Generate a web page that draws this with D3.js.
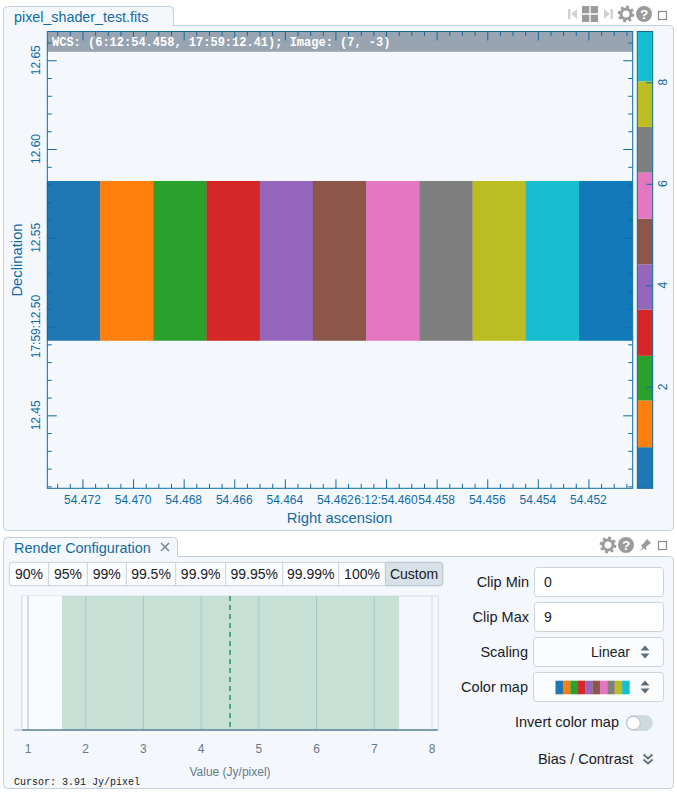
<!DOCTYPE html>
<html><head><meta charset="utf-8">
<script src="https://cdn.jsdelivr.net/npm/d3@7"></script>
<style>
html,body{margin:0;padding:0;background:#fff;overflow:hidden}
svg{display:block;font-family:"Liberation Sans",Arial,sans-serif}
</style></head><body><svg id="c" width="677" height="792"></svg>
<script>
// ---------- data ----------
const pixelColumns=[0,1,2,3,4,5,6,7,8,9,10];
const pixelColors=["#1f77b4","#ff7f0e","#2ca02c","#d62728","#9467bd","#8c564b","#e377c2","#7f7f7f","#bcbd22","#17becf","#127ab8"];
const rowDecRange=[12.492,12.582];
const raMajor=[54.472,54.470,54.468,54.466,54.464,54.462,54.460,54.458,54.456,54.454,54.452];
const raLabels=["54.472","54.470","54.468","54.466","54.464","54.462","6:12:54.460","54.458","54.456","54.454","54.452"];
const raMinor=[54.4730,54.4725,54.4715,54.4710,54.4705,54.4695,54.4690,54.4685,54.4675,54.4670,54.4665,54.4655,54.4650,54.4645,54.4635,54.4630,54.4625,54.4615,54.4610,54.4605,54.4595,54.4590,54.4585,54.4575,54.4570,54.4565,54.4555,54.4550,54.4545,54.4535,54.4530,54.4525,54.4515,54.4510,54.4505];
const decMajor=[12.65,12.60,12.55,12.50,12.45];
const decLabels=["12.65","12.60","12.55","17:59:12.50","12.45"];
const decMinor=[12.66,12.64,12.63,12.62,12.61,12.59,12.58,12.57,12.56,12.54,12.53,12.52,12.51,12.49,12.48,12.47,12.46,12.44,12.43,12.42,12.41];
const cbarBounds=[0,0.81,1.73,2.61,3.52,4.41,5.31,6.22,7.12,8.02,9];
const cbarColors=pixelColors.slice(0,10);
const cbarTicks=[2,4,6,8];
const percentiles=["90%","95%","99%","99.5%","99.9%","99.95%","99.99%","100%","Custom"];
const percentileEdges=[9.3,48.7,87.3,126.3,175.7,225.7,282.7,338.7,385.3,442.7];
const histTicks=[1,2,3,4,5,6,7,8];
const histBins=[0.9,2.7,2.7,6.3,6.3,8.1];
const histCounts=[0,0,0,0,0,0];
const clipRange=[1.59,7.43];
const meanValue=4.5;

// ---------- layout ----------
const svg=d3.select("#c");
const BLUE="#106ba3",PANEL="#f4f8fc",EDGE="#c3cfda",DARK="#182026",GREY="#66788a";
const F={l:47.3,r:632.7,t:31.5,b:488.3};
const C={l:637.3,r:652.7};
const H={l:21.7,r:438.3,t:596,b:730};

function tabPanel(tx0,tx1,ty,py,pb){
  const l=3.5,r=673.5,R=4;
  svg.append("path").attr("d",`M${l},${py+R}L${l},${ty+R}Q${l},${ty} ${l+R},${ty}L${tx1-R},${ty}Q${tx1},${ty} ${tx1},${ty+R}L${tx1},${py}L${r-R},${py}Q${r},${py} ${r},${py+R}L${r},${pb-R}Q${r},${pb} ${r-R},${pb}L${l+R},${pb}Q${l},${pb} ${l},${pb-R}Z`)
    .attr("fill",PANEL).attr("stroke",EDGE).attr("stroke-width",1);
}
tabPanel(3.5,173.5,6.5,25.5,530.5);
tabPanel(3.5,177.5,537.5,556.5,788.5);
svg.append("text").attr("x",14).attr("y",22).attr("font-size",14.3).attr("fill",BLUE).text("pixel_shader_test.fits");
svg.append("text").attr("x",14).attr("y",553).attr("font-size",14.4).attr("fill",BLUE).text("Render Configuration");
// close x
svg.append("path").attr("d","M161,543L169,551M169,543L161,551").attr("stroke","#7d8a96").attr("stroke-width",1.6).attr("fill","none");

// ---------- image plot ----------
const xRa=d3.scaleLinear().domain([54.47339,54.45025]).range([F.l,F.r]);
const yDec=d3.scaleLinear().domain([12.6662,12.4089]).range([F.t,F.b]);
const xPix=d3.scaleBand().domain(pixelColumns).range([46.9,632.2]);
const colorOf=d3.scaleOrdinal().domain(pixelColumns).range(pixelColors);
svg.append("g").selectAll("rect").data(pixelColumns).join("rect")
  .attr("x",d=>xPix(d)).attr("width",xPix.bandwidth()+0.3)
  .attr("y",yDec(rowDecRange[1])).attr("height",yDec(rowDecRange[0])-yDec(rowDecRange[1]))
  .attr("fill",d=>colorOf(d));
svg.append("rect").attr("x",F.l).attr("y",F.t).attr("width",F.r-F.l).attr("height",20.3).attr("fill","#98a4b1");

function ticks(axisFn,scale,vals,len,tr){
  const g=svg.append("g").attr("transform",tr).call(axisFn(scale).tickValues(vals).tickSize(len).tickFormat(""));
  g.select(".domain").remove();
  g.selectAll("line").attr("stroke",BLUE).attr("stroke-width",1);
}
ticks(d3.axisTop,xRa,raMajor,9,`translate(0,${F.b})`);
ticks(d3.axisTop,xRa,raMinor,4.5,`translate(0,${F.b})`);
ticks(d3.axisBottom,xRa,raMajor,9,`translate(0,${F.t})`);
ticks(d3.axisBottom,xRa,raMinor,4.5,`translate(0,${F.t})`);
ticks(d3.axisRight,yDec,decMajor,9.5,`translate(${F.l},0)`);
ticks(d3.axisRight,yDec,decMinor,4.5,`translate(${F.l},0)`);
ticks(d3.axisLeft,yDec,decMajor,9.5,`translate(${F.r},0)`);
ticks(d3.axisLeft,yDec,decMinor,4.5,`translate(${F.r},0)`);
svg.append("rect").attr("x",F.l).attr("y",F.t).attr("width",F.r-F.l).attr("height",F.b-F.t).attr("fill","none").attr("stroke",BLUE).attr("stroke-width",1);
svg.append("text").attr("x",52).attr("y",46).attr("font-family","'Liberation Mono',monospace").attr("font-weight","bold").attr("font-size",12).attr("fill","#fff")
  .text("WCS: (6:12:54.458, 17:59:12.41); Image: (7, -3)");

svg.append("g").selectAll("text").data(raMajor).join("text")
  .attr("x",d=>xRa(d)).attr("y",504).attr("text-anchor","middle").attr("font-size",12).attr("fill",BLUE)
  .text((d,i)=>raLabels[i]);
svg.append("g").selectAll("text").data(decMajor).join("text")
  .attr("transform",d=>`translate(40,${yDec(d)}) rotate(-90)`).attr("text-anchor","middle").attr("font-size",12).attr("fill",BLUE)
  .text((d,i)=>decLabels[i]);
svg.append("text").attr("x",339.5).attr("y",523).attr("text-anchor","middle").attr("font-size",14.8).attr("fill",BLUE).text("Right ascension");
svg.append("text").attr("transform","translate(22,260) rotate(-90)").attr("text-anchor","middle").attr("font-size",14.8).attr("fill",BLUE).text("Declination");

// ---------- colour bar ----------
const yBar=d3.scaleLinear().domain([0,9]).range([F.b,F.t]);
svg.append("g").selectAll("rect").data(cbarColors).join("rect")
  .attr("x",C.l).attr("width",C.r-C.l)
  .attr("y",(d,i)=>yBar(cbarBounds[i+1])).attr("height",(d,i)=>yBar(cbarBounds[i])-yBar(cbarBounds[i+1]))
  .attr("fill",d=>d);
ticks(d3.axisLeft,yBar,cbarTicks,6.5,`translate(${C.r},0)`);
svg.append("rect").attr("x",C.l).attr("y",F.t).attr("width",C.r-C.l).attr("height",F.b-F.t).attr("fill","none").attr("stroke",BLUE).attr("stroke-width",1);
svg.append("g").selectAll("text").data(cbarTicks).join("text")
  .attr("transform",d=>`translate(667,${yBar(d)}) rotate(-90)`).attr("text-anchor","middle").attr("font-size",12).attr("fill",BLUE).text(d=>d);

// ---------- toolbar icons ----------
function gear(cx,cy){
  svg.append("circle").attr("cx",cx).attr("cy",cy).attr("r",5).attr("fill","none").attr("stroke","#9b9b9b").attr("stroke-width",3);
  svg.append("circle").attr("cx",cx).attr("cy",cy).attr("r",7.2).attr("fill","none").attr("stroke","#9b9b9b").attr("stroke-width",2.4).attr("stroke-dasharray","2.8 2.85");
}
function help(cx,cy){
  svg.append("circle").attr("cx",cx).attr("cy",cy).attr("r",8).attr("fill","#9b9b9b");
  svg.append("text").attr("x",cx).attr("y",cy+4.8).attr("text-anchor","middle").attr("font-size",13.5).attr("font-weight","bold").attr("fill","#fff").text("?");
}
function maxBox(x,y){svg.append("rect").attr("x",x).attr("y",y).attr("width",8).attr("height",8).attr("fill","none").attr("stroke","#8a8a8a").attr("stroke-width",1.2);}
svg.append("path").attr("d","M568,9h2.5v10h-2.5zM571,14l6,-5v10z").attr("fill","#d2d2d2");
svg.append("path").attr("d","M604,9l6,5l-6,5zM610.5,9h2.5v10h-2.5z").attr("fill","#d2d2d2");
svg.append("path").attr("d","M582,6h7.3v7.3h-7.3zM590.7,6h7.3v7.3h-7.3zM582,14.7h7.3v7.3h-7.3zM590.7,14.7h7.3v7.3h-7.3z").attr("fill","#9b9b9b");
gear(626,14);help(644,14);maxBox(658.5,11.5);
gear(608,545);help(626,545);maxBox(658.5,541.5);
svg.append("path").attr("d","M644,544l4,-5l4,4l-4.6,3.6l-0.6,3.6l-2,-2l-4.8,3.8l3.8,-4.8l-2,-2z").attr("fill","#9b9b9b").attr("transform","translate(-1,0)");

// ---------- percentile buttons ----------
const btn=svg.append("g");
btn.append("rect").attr("x",percentileEdges[0]).attr("y",562.3).attr("width",percentileEdges[9]-percentileEdges[0]).attr("height",23.4).attr("rx",3).attr("fill","#fbfcfd").attr("stroke","#c8cfd6");
btn.append("rect").attr("x",percentileEdges[8]).attr("y",562.3).attr("width",percentileEdges[9]-percentileEdges[8]).attr("height",23.4).attr("rx",2).attr("fill","#d8e0e8").attr("stroke","#bcc6d0");
btn.selectAll("line").data(percentileEdges.slice(1,8)).join("line").attr("x1",d=>d).attr("x2",d=>d).attr("y1",562.3).attr("y2",585.7).attr("stroke","#c8cfd6");
btn.selectAll("text").data(percentiles).join("text")
  .attr("x",(d,i)=>(percentileEdges[i]+percentileEdges[i+1])/2).attr("y",579).attr("text-anchor","middle").attr("font-size",14).attr("fill",DARK).text(d=>d);

// ---------- histogram ----------
const xHist=d3.scaleLinear().domain([1,8]).range([28,432]);
const yHist=d3.scaleLinear().domain([0,1]).range([H.b,H.t]);
svg.append("rect").attr("x",H.l).attr("y",H.t).attr("width",H.r-H.l).attr("height",H.b-H.t).attr("fill",PANEL).attr("stroke","#d5dde5");
svg.append("rect").attr("x",xHist(histTicks[0])-5).attr("y",H.t).attr("width",xHist(clipRange[0])-xHist(histTicks[0])+5).attr("height",H.b-H.t).attr("fill","#fafcfe").attr("opacity",0.9);
svg.append("rect").attr("x",xHist(clipRange[0])).attr("y",H.t).attr("width",xHist(clipRange[1])-xHist(clipRange[0])).attr("height",H.b-H.t).attr("fill","#c6e0d6");
svg.append("g").selectAll("line").data(histTicks).join("line")
  .attr("x1",d=>xHist(d)).attr("x2",d=>xHist(d)).attr("y1",H.t).attr("y2",H.b)
  .attr("stroke",d=>(d>clipRange[0]&&d<clipRange[1])?"#a5c9be":"#d3dce5").attr("stroke-width",d=>d===1?2:1);
svg.append("line").attr("x1",xHist(meanValue)).attr("x2",xHist(meanValue)).attr("y1",H.t).attr("y2",H.b).attr("stroke","#0f8a5c").attr("stroke-width",1.3).attr("stroke-dasharray","5 4");
svg.append("line").attr("x1",14).attr("x2",H.l).attr("y1",H.b).attr("y2",H.b).attr("stroke","#c3ccd5").attr("stroke-width",1.5);
svg.append("path").datum(histBins.map((b,i)=>[b,histCounts[i]]))
  .attr("d",d3.line().x(d=>Math.min(xHist(d[0]),H.r)).y(d=>yHist(d[1]))).attr("fill","none").attr("stroke","#5f8197").attr("stroke-width",1.6);
svg.append("g").selectAll("text").data(histTicks).join("text")
  .attr("x",d=>xHist(d)).attr("y",753).attr("text-anchor","middle").attr("font-size",12).attr("fill",GREY).text(d=>d);
svg.append("text").attr("x",230).attr("y",776).attr("text-anchor","middle").attr("font-size",12).attr("fill",GREY).text("Value (Jy/pixel)");
svg.append("text").attr("x",14).attr("y",785).attr("font-family","'Liberation Mono',monospace").attr("font-size",10).attr("fill",DARK).text("Cursor: 3.91 Jy/pixel");

// ---------- controls ----------
function box(y,h,l,r,fill){svg.append("rect").attr("x",l).attr("y",y).attr("width",r-l).attr("height",h).attr("rx",3).attr("fill",fill).attr("stroke","#ccd3da");}
function lab(t,x,y){svg.append("text").attr("x",x).attr("y",y).attr("text-anchor","end").attr("font-size",14.5).attr("fill",DARK).text(t);}
function updown(cx,cy){svg.append("path").attr("d",`M${cx-4.5},${cy-1.5}L${cx},${cy-6.5}L${cx+4.5},${cy-1.5}ZM${cx-4.5},${cy+1.5}L${cx},${cy+6.5}L${cx+4.5},${cy+1.5}Z`).attr("fill","#5c7080");}
lab("Clip Min",529,587);box(567.5,29,534.5,663.5,"#fff");
svg.append("text").attr("x",544).attr("y",587).attr("font-size",14).attr("fill",DARK).text("0");
lab("Clip Max",529,622);box(602.5,29,534.5,663.5,"#fff");
svg.append("text").attr("x",544).attr("y",622).attr("font-size",14).attr("fill",DARK).text("9");
lab("Scaling",528,657);box(637.5,29,533.5,663.5,"#fbfcfd");
svg.append("text").attr("x",630).attr("y",657).attr("text-anchor","end").attr("font-size",14).attr("fill",DARK).text("Linear");updown(645,652);
lab("Color map",528,692);box(672.5,29,533.5,663.5,"#fbfcfd");updown(645,687);
const swatchX=d3.scaleBand().domain(pixelColumns.slice(0,10)).range([555.5,629.5]);
svg.append("g").selectAll("rect").data(pixelColumns.slice(0,10)).join("rect")
  .attr("x",d=>swatchX(d)).attr("y",680.7).attr("width",swatchX.bandwidth()+0.2).attr("height",13.6).attr("fill",d=>colorOf(d));
lab("Invert color map",619,727);
svg.append("rect").attr("x",625.7).attr("y",715).attr("width",27).attr("height",16).attr("rx",8).attr("fill","#ced9e0");
svg.append("circle").attr("cx",633.5).attr("cy",723).attr("r",6.6).attr("fill","#fff").attr("stroke","#9aa6b0").attr("stroke-width",0.6);
lab("Bias / Contrast",633,764);
svg.append("path").attr("d","M643.5,754.5L648,758.5L652.5,754.5M643.5,759.5L648,763.5L652.5,759.5").attr("fill","none").attr("stroke","#5c7080").attr("stroke-width",1.8);
</script></body></html>
